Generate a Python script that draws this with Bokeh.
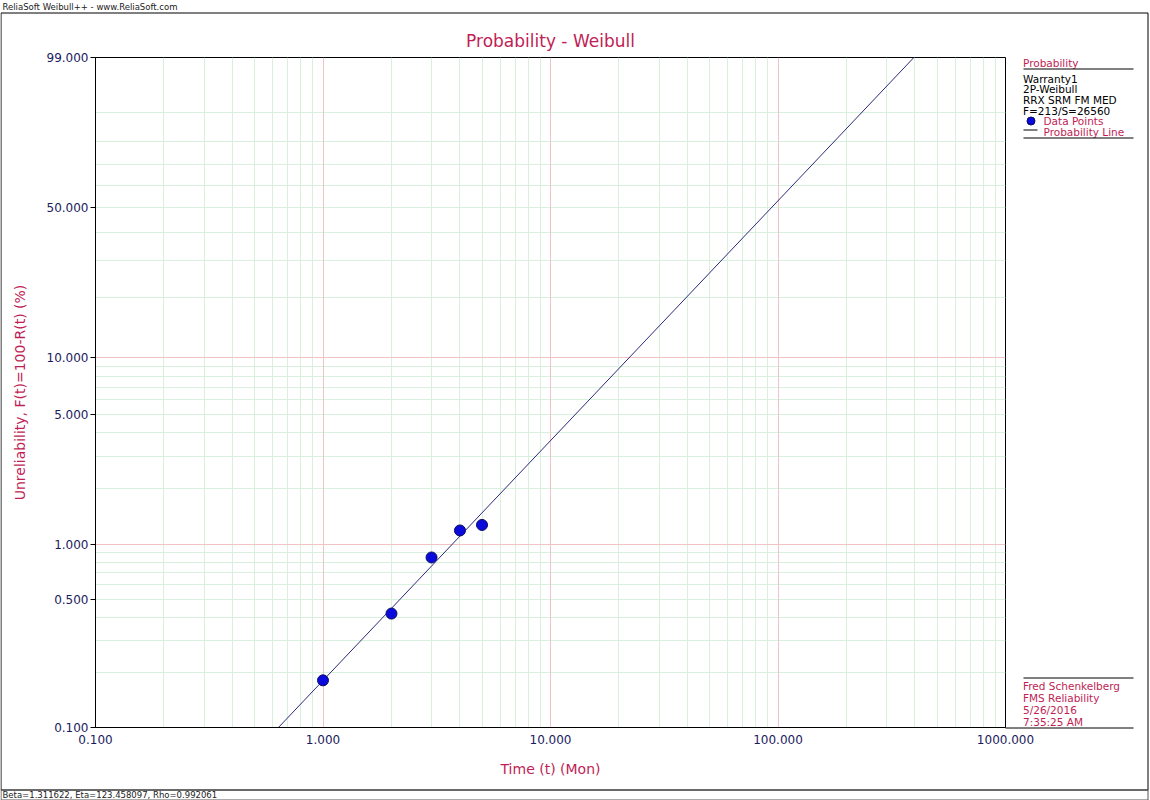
import numpy as np
from bokeh.plotting import figure
from bokeh.models import Range1d, FixedTicker, CustomJSTickFormatter, Grid
from bokeh.core.properties import value
from bokeh.embed import file_html
from bokeh.resources import INLINE

# ---------------- data ----------------
times = [1, 2, 3, 4, 5]                                   # Time (Mon)
unreliability_pct = [0.181, 0.419, 0.847, 1.188, 1.273]   # F(t) %
line_time = [0.637, 395.6]                                # probability line ends
line_pct = [0.1, 99.0]

x_label_ticks = [0.1, 1, 10, 100, 1000]
x_major_grid = [1, 10, 100]
x_minor_grid = [0.2, 0.3, 0.4, 0.5, 0.6, 0.7, 0.8, 0.9,
                2, 3, 4, 5, 6, 7, 8, 9,
                20, 30, 40, 50, 60, 70, 80, 90,
                200, 300, 400, 500, 600, 700, 800, 900]
y_label_pct = [0.1, 0.5, 1, 5, 10, 50, 99]
y_major_grid_pct = [1, 10]
y_minor_grid_pct = [0.2, 0.3, 0.4, 0.5, 0.6, 0.7, 0.8, 0.9,
                    2, 3, 4, 5, 6, 7, 8, 9,
                    20, 30, 40, 50, 60, 70, 80, 90]

chart_title = "Probability - Weibull"
header_text = "ReliaSoft Weibull++ - www.ReliaSoft.com"
status_text = "Beta=1.311622, Eta=123.458097, Rho=0.992061"
legend_title = "Probability"
legend_lines = ["Warranty1", "2P-Weibull", "RRX SRM FM MED", "F=213/S=26560"]
legend_items = ["Data Points", "Probability Line"]
footer_lines = ["Fred Schenkelberg", "FMS Reliability", "5/26/2016", "7:35:25 AM"]


def wt(pct):
    """Weibull probability-paper transform of a percentage."""
    return np.log(-np.log(1.0 - np.asarray(pct, dtype=float) / 100.0))


FONT = "DejaVu Sans"
CRIMSON = "#C01E55"
NAVY = "#1B1B5E"
GREEN = "#D8F0DC"
PINK = "#F0C4C4"
DOT_FILL = "#0A0ADC"
DOT_LINE = "#0A0A60"
LINE_COL = "#2A2A7A"

W, H = 1150, 800
FL, FT, FW, FH = 95, 57, 910, 670   # frame left/top/width/height in canvas px

# ---------------- main chart ----------------
p = figure(frame_width=FW, frame_height=FH,
           min_border_left=FL, min_border_right=W - FL - FW,
           min_border_top=FT, min_border_bottom=H - FT - FH,
           x_axis_type="log",
           x_range=Range1d(0.1, 1000),
           y_range=Range1d(float(wt(0.1)), float(wt(99))),
           output_backend="svg", toolbar_location=None)
p.title.visible = False
p.background_fill_color = "white"
p.border_fill_color = "white"
p.outline_line_color = "black"
p.outline_line_width = 1
p.outline_line_alpha = 1

p.xgrid.visible = False
p.ygrid.visible = False

p.add_layout(Grid(dimension=0, ticker=FixedTicker(ticks=x_minor_grid),
                  grid_line_color=GREEN, grid_line_width=1))
p.add_layout(Grid(dimension=1, ticker=FixedTicker(ticks=[float(v) for v in wt(y_minor_grid_pct)]),
                  grid_line_color=GREEN, grid_line_width=1))
p.add_layout(Grid(dimension=0, ticker=FixedTicker(ticks=x_major_grid),
                  grid_line_color=PINK, grid_line_width=1))
p.add_layout(Grid(dimension=1, ticker=FixedTicker(ticks=[float(v) for v in wt(y_major_grid_pct)]),
                  grid_line_color=PINK, grid_line_width=1))

p.xaxis.ticker = FixedTicker(ticks=x_label_ticks)
p.xaxis.formatter = CustomJSTickFormatter(code="return tick.toFixed(3);")
p.yaxis.ticker = FixedTicker(ticks=[float(v) for v in wt(y_label_pct)])
p.yaxis.formatter = CustomJSTickFormatter(
    code="return (100*(1-Math.exp(-Math.exp(tick)))).toFixed(3);")

for ax in (p.xaxis, p.yaxis):
    ax.axis_line_color = "black"
    ax.major_tick_line_color = "black"
    ax.minor_tick_line_color = None
    ax.major_label_text_font = FONT
    ax.major_label_text_font_size = "12px"
    ax.major_label_text_color = NAVY
    ax.axis_label_text_font = FONT
    ax.axis_label_text_font_size = "14px"
    ax.axis_label_text_font_style = "normal"
    ax.axis_label_text_color = CRIMSON
    ax.major_tick_in = 0

p.xaxis.major_tick_out = 0
p.xaxis.major_label_standoff = 7
p.xaxis.axis_label = "Time (t) (Mon)"
p.xaxis.axis_label_standoff = 14

p.yaxis.major_tick_out = 5
p.yaxis.major_label_standoff = 2
p.yaxis.axis_label = "Unreliability, F(t)=100-R(t) (%)"
p.yaxis.axis_label_standoff = 16

p.line(line_time, wt(line_pct), line_color=LINE_COL, line_width=1)
p.scatter(times, wt(unreliability_pct), size=11, fill_color=DOT_FILL,
          line_color=DOT_LINE, line_width=1)

# ---------------- transparent overlay for the page decorations ----------------
d = figure(width=W, height=H, x_range=Range1d(0, W), y_range=Range1d(H, 0),
           min_border=0, x_axis_location=None, y_axis_location=None,
           output_backend="svg", toolbar_location=None)
d.title.visible = False
d.grid.visible = False
d.outline_line_color = None
d.background_fill_alpha = 0
d.border_fill_alpha = 0
d.margin = (-H, 0, 0, 0)


def txt(xs, ys, texts, color, size, align="left"):
    d.text(x=xs, y=ys, text=texts, text_color=color, text_font=value(FONT),
           text_font_size=value(size), text_align=align, text_baseline="middle")


def hline(x0, x1, y):
    d.segment(x0=[x0], y0=[y], x1=[x1], y1=[y], line_color="black", line_width=1)


# outer frame + status bars
d.quad(left=[0.5], right=[1147.5], top=[12.5], bottom=[789.5],
       fill_alpha=0, line_color="black", line_width=1)
d.quad(left=[0.5], right=[1147.5], top=[789.5], bottom=[799.5],
       fill_alpha=0, line_color="#555555", line_width=1)
txt([2], [6], [header_text], "#222222", "8.5px")
txt([2], [794.5], [status_text], "#222222", "8.5px")

# title
txt([550], [40], [chart_title], CRIMSON, "17px", align="center")

# legend (top right)
txt([1022.5], [62.3], [legend_title], CRIMSON, "10.5px")
hline(1023, 1133, 68.5)
txt([1022.5] * len(legend_lines), [78.3 + i * 10.6 for i in range(len(legend_lines))],
    legend_lines, "black", "10.5px")
d.scatter(x=[1030.5], y=[120.5], size=8, fill_color=DOT_FILL, line_color=DOT_LINE)
hline(1023, 1037, 129.5)
txt([1043, 1043], [120.5, 131], legend_items, CRIMSON, "10.5px")
hline(1023, 1133, 137.5)

# legend (bottom right)
hline(1023, 1133, 677.5)
txt([1022.5] * len(footer_lines), [685 + i * 12.2 for i in range(len(footer_lines))],
    footer_lines, CRIMSON, "10.5px")
hline(1005, 1133, 727.5)

open("out.html", "w").write(file_html([p, d], INLINE))
